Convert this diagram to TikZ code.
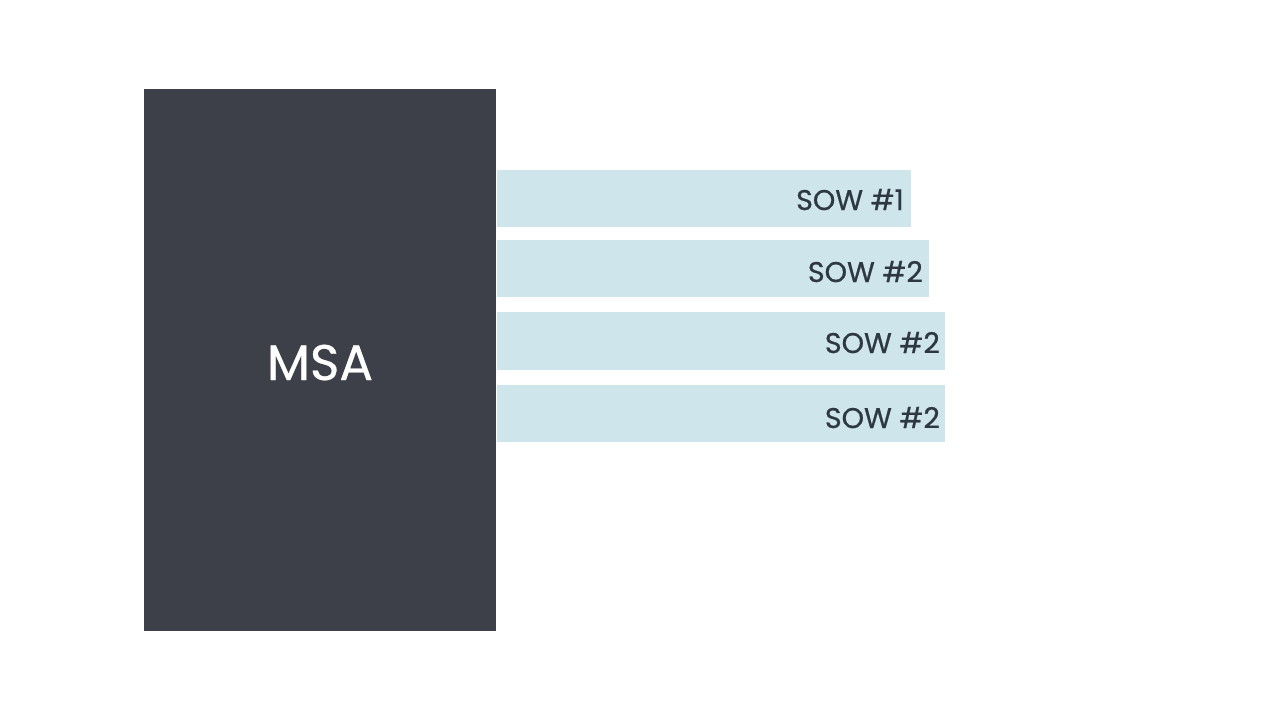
\documentclass[tikz,border=0pt]{standalone}
\usepackage{fontspec}
\setmainfont{Poppins}
\newfontfamily\labelfont[FakeBold=0.6]{Poppins}
\definecolor{msadark}{HTML}{3D4049}
\definecolor{sowbar}{HTML}{CFE5EC}
\definecolor{sowtxt}{HTML}{2D3842}
\tikzset{
  msabox/.style={fill=msadark, draw=none, inner sep=0pt},
  sowbox/.style={fill=sowbar, draw=none, inner sep=0pt, anchor=north west},
  sowlabel/.style={text=sowtxt, font=\labelfont\fontsize{28.5}{32}\selectfont, inner sep=0pt, anchor=base east},
  msalabel/.style={text=white, font=\labelfont\fontsize{50}{56}\selectfont, inner sep=0pt, anchor=base}
}
\begin{document}
\begin{tikzpicture}[x=1pt,y=-1pt]
\useasboundingbox (0,0) rectangle (1280,720);
\fill[white] (0,0) rectangle (1280,720);
\node[msabox, minimum width=352pt, minimum height=542pt, anchor=north west] (msa) at (144,89) {};
\node[msalabel] (msat) at (320,380) {MSA};
\node[sowbox, minimum width=414pt, minimum height=57pt] (s1) at (497,170) {};
\node[sowbox, minimum width=432pt, minimum height=57pt] (s2) at (497,240) {};
\node[sowbox, minimum width=448pt, minimum height=58pt] (s3) at (497,312) {};
\node[sowbox, minimum width=448pt, minimum height=57pt] (s4) at (497,385) {};
\node[sowlabel] (t1) at (904,210) {SOW \#1};
\node[sowlabel] (t2) at (923,282) {SOW \#2};
\node[sowlabel] (t3) at (940,353) {SOW \#2};
\node[sowlabel] (t4) at (940,428) {SOW \#2};
\end{tikzpicture}
\end{document}
